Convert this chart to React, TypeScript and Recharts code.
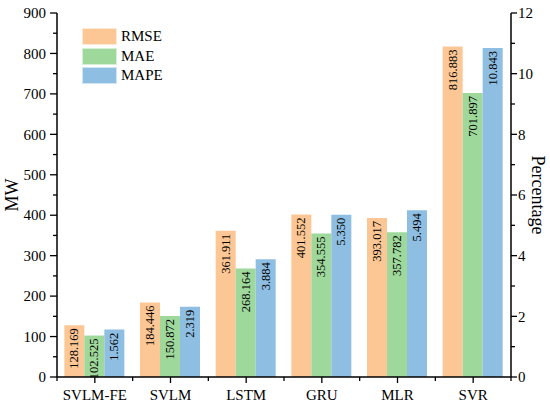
import { BarChart, Bar, XAxis, YAxis, Legend, LabelList } from "recharts";

const models = ["SVLM-FE", "SVLM", "LSTM", "GRU", "MLR", "SVR"];
const rmse = [128.169, 184.446, 361.911, 401.552, 393.017, 816.883];
const mae = [102.525, 150.872, 268.164, 354.555, 357.782, 701.897];
const mape = [1.562, 2.319, 3.884, 5.35, 5.494, 10.843];
const seriesNames = ["RMSE", "MAE", "MAPE"];

const leftTicks = [0, 50, 100, 150, 200, 250, 300, 350, 400, 450, 500, 550, 600, 650, 700, 750, 800, 850, 900];
const rightTicks = [0, 1, 2, 3, 4, 5, 6, 7, 8, 9, 10, 11, 12];

const data = models.map((name, i) => ({
  name,
  RMSE: rmse[i],
  MAE: mae[i],
  MAPE: mape[i],
}));

const FONT = '"Liberation Serif", "Times New Roman", serif';
const COLORS: Record<string, string> = { RMSE: "#fcc794", MAE: "#9fd89b", MAPE: "#8ebee1" };

function LeftTick(props: any) {
  const { x, y, payload } = props;
  const major = payload.value % 100 === 0;
  return (
    <g>
      <line x1={x} x2={x - (major ? 7 : 4)} y1={y} y2={y} stroke="#000" strokeWidth={1.3} />
      {major && (
        <text x={x - 11} y={y} dy="0.35em" textAnchor="end" fontSize={15} fontFamily={FONT} fill="#000">
          {payload.value}
        </text>
      )}
    </g>
  );
}

function RightTick(props: any) {
  const { x, y, payload } = props;
  const major = payload.value % 2 === 0;
  return (
    <g>
      <line x1={x} x2={x + (major ? 6 : 4)} y1={y} y2={y} stroke="#000" strokeWidth={1.3} />
      {major && (
        <text x={x + 7} y={y} dy="0.35em" textAnchor="start" fontSize={15} fontFamily={FONT} fill="#000">
          {payload.value}
        </text>
      )}
    </g>
  );
}

function BottomTick(props: any) {
  const { x, y, payload, index } = props;
  const half = payload.offset ?? 37.8;
  return (
    <g>
      <line x1={x} x2={x} y1={y} y2={y + 6} stroke="#000" strokeWidth={1.3} />
      <line x1={x - half} x2={x - half} y1={y} y2={y + 4} stroke="#000" strokeWidth={1.3} />
      {index === models.length - 1 && (
        <line x1={x + half} x2={x + half} y1={y} y2={y + 4} stroke="#000" strokeWidth={1.3} />
      )}
      <text x={x} y={y + 23} textAnchor="middle" fontSize={15} fontFamily={FONT} fill="#000">
        {payload.value}
      </text>
    </g>
  );
}

function AxisTitle(props: any) {
  const { viewBox, title, rot, shift } = props;
  const x = viewBox.x + shift;
  const y = viewBox.y + viewBox.height / 2;
  return (
    <text
      x={x}
      y={y}
      transform={`rotate(${rot} ${x} ${y})`}
      textAnchor="middle"
      dominantBaseline="central"
      fontSize={18}
      fontFamily={FONT}
      fill="#000"
    >
      {title}
    </text>
  );
}

function BarValue(props: any) {
  const { x, y, width, value } = props;
  const cx = x + width / 2;
  const top = y + 3;
  return (
    <text
      x={cx}
      y={top}
      transform={`rotate(-90 ${cx} ${top})`}
      textAnchor="end"
      dominantBaseline="central"
      fontSize={12.5}
      fontFamily={FONT}
      fill="#000"
    >
      {Number(value).toFixed(3)}
    </text>
  );
}

function LegendBox() {
  return (
    <div style={{ fontFamily: FONT, fontSize: 15, color: "#000" }}>
      {seriesNames.map((s) => (
        <div key={s} style={{ display: "flex", alignItems: "center", height: 19.5 }}>
          <div style={{ width: 35, height: 17, background: COLORS[s], boxSizing: "border-box", border: "1px solid rgba(255,255,255,0.6)" }} />
          <span style={{ marginLeft: 4, lineHeight: "17px" }}>{s}</span>
        </div>
      ))}
    </div>
  );
}

export default function App() {
  return (
    <div style={{ position: "absolute", left: 0, top: 0, width: 550, height: 407, background: "#fff" }}>
      <BarChart
        width={550}
        height={407}
        data={data}
        margin={{ top: 13, right: 0, bottom: 0, left: 0 }}
        barCategoryGap="9.7%"
        barGap={0}
      >
        <XAxis
          dataKey="name"
          height={30}
          axisLine={{ stroke: "#000", strokeWidth: 1.5 }}
          tickLine={false}
          tickSize={0}
          tickMargin={0}
          tick={<BottomTick />}
          interval={0}
        />
        <YAxis
          yAxisId="mw"
          orientation="left"
          width={57}
          domain={[0, 900]}
          ticks={leftTicks}
          interval={0}
          axisLine={{ stroke: "#000", strokeWidth: 1.5 }}
          tickLine={false}
          tickSize={0}
          tickMargin={0}
          tick={<LeftTick />}
          label={<AxisTitle title="MW" rot={-90} shift={12} />}
        />
        <YAxis
          yAxisId="pct"
          orientation="right"
          width={39}
          domain={[0, 12]}
          ticks={rightTicks}
          interval={0}
          axisLine={{ stroke: "#000", strokeWidth: 1.5 }}
          tickLine={false}
          tickSize={0}
          tickMargin={0}
          tick={<RightTick />}
          label={<AxisTitle title="Percentage" rot={90} shift={27} />}
        />
        <Legend
          layout="vertical"
          verticalAlign="middle"
          align="center"
          content={<LegendBox />}
          wrapperStyle={{ position: "absolute", left: 82, top: 27, width: 120 }}
        />
        <Bar yAxisId="mw" dataKey="RMSE" fill={COLORS.RMSE} isAnimationActive={false}>
          <LabelList dataKey="RMSE" content={<BarValue />} />
        </Bar>
        <Bar yAxisId="mw" dataKey="MAE" fill={COLORS.MAE} isAnimationActive={false}>
          <LabelList dataKey="MAE" content={<BarValue />} />
        </Bar>
        <Bar yAxisId="pct" dataKey="MAPE" fill={COLORS.MAPE} isAnimationActive={false}>
          <LabelList dataKey="MAPE" content={<BarValue />} />
        </Bar>
      </BarChart>
    </div>
  );
}
